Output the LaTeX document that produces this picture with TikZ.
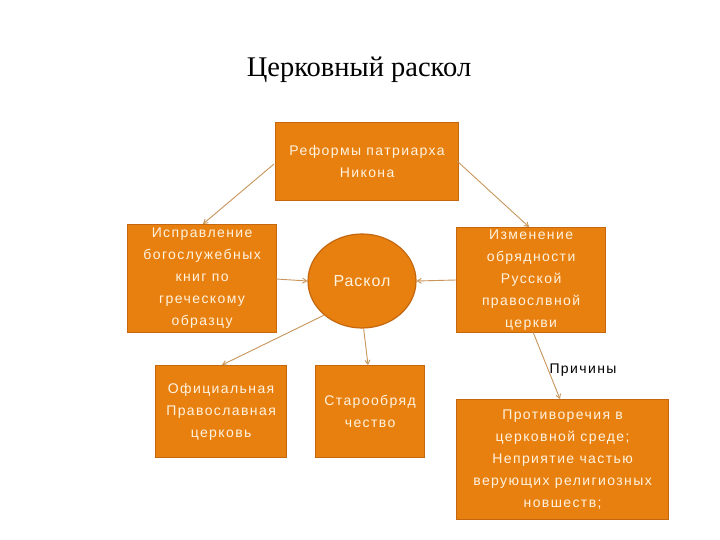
\documentclass[tikz,border=0pt]{standalone}
\usepackage{fontspec}
\setmainfont{Liberation Sans}
\newfontfamily\titlefont{Liberation Serif}
\usetikzlibrary{arrows.meta,shapes.geometric}
\definecolor{boxfill}{HTML}{E8800F}
\definecolor{boxline}{HTML}{C4670E}
\definecolor{conn}{HTML}{C8955A}
\definecolor{boxtext}{HTML}{FFF3E0}
\newcommand\boxfont{\fontsize{14}{22}\selectfont\addfontfeature{LetterSpace=10}}
\begin{document}
\begin{tikzpicture}[x=1pt,y=-1pt,
  box/.style={draw=boxline,line width=1.2pt,fill=boxfill,text=boxtext,align=center,
    font=\boxfont,inner sep=0pt,anchor=north west},
  conn/.style={draw=conn,line width=0.9pt,-{Straight Barb[length=4pt,width=5pt]}}]
\useasboundingbox (0,0) rectangle (720,540);
\fill[white] (0,0) rectangle (720,540);
\node[font=\titlefont\fontsize{28.5}{32}\selectfont,anchor=base] (title) at (359,77) {Церковный раскол};
\node[box,minimum width=183pt,minimum height=78pt] (top) at (275,122) {Реформы патриарха\\Никона};
\node[box,minimum width=149pt,minimum height=108pt] (left) at (127,224) {Исправление\\богослужебных\\книг по\\греческому\\образцу};
\node[box,minimum width=149pt,minimum height=105pt] (right) at (456,227) {Изменение\\обрядности\\Русской\\правослвной\\церкви};
\node[draw=boxline,line width=1.2pt,fill=boxfill,text=boxtext,ellipse,minimum width=108pt,minimum height=94pt,font=\fontsize{16}{18}\selectfont\addfontfeature{LetterSpace=6},inner sep=0pt] (rask) at (362,281) {Раскол};
\node[box,minimum width=131pt,minimum height=92pt] (b1) at (155,365) {Официальная\\Православная\\церковь};
\node[box,minimum width=109pt,minimum height=92pt] (b2) at (315,365) {Старообряд\\чество};
\node[box,minimum width=212pt,minimum height=120pt] (b3) at (456,399) {Противоречия в\\церковной среде;\\Неприятие частью\\верующих религиозных\\новшеств;};
\node[font=\boxfont] (pr) at (583,370) {Причины};
\coordinate (tl) at (274,164);
\coordinate (tr) at (457,161);
\draw[conn] (tl) -- (203,224);
\draw[conn] (tr) -- (529,227);
\draw[conn] (276,279) -- (rask.west);
\draw[conn] (456,280) -- (rask.east);
\draw[conn] (rask.-138) -- (222,365);
\draw[conn] (rask.-88) -- (368,365);
\draw[conn] (533,332) -- (560,399);
\end{tikzpicture}
\end{document}
